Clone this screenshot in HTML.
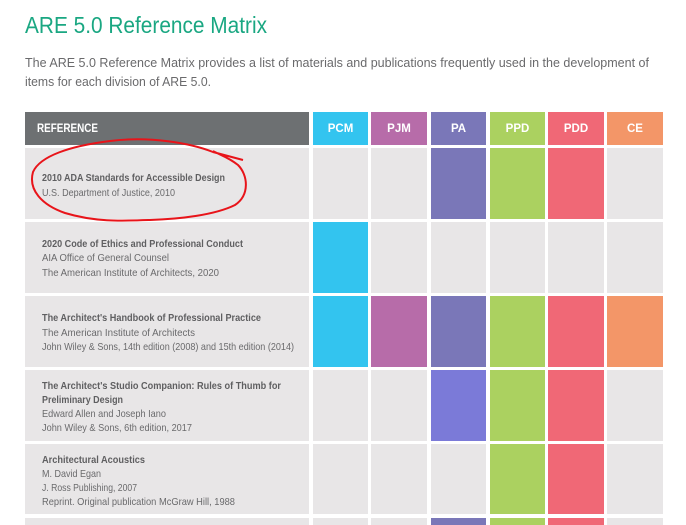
<!DOCTYPE html>
<html><head><style>
html,body{margin:0;padding:0;background:#fff;}
svg{display:block;}
text{font-family:"Liberation Sans",sans-serif;}
.b{font-weight:bold;font-size:10.5px;fill:#5f5f61;}
.l{font-size:10.5px;fill:#6a6a6c;}
.h{font-weight:bold;font-size:11.5px;fill:#fff;}
</style></head><body>
<svg width="686" height="525" viewBox="0 0 686 525">
<rect width="686" height="525" fill="#fff"/>
<text x="25" y="33" font-size="23" fill="#1aa782" textLength="242" lengthAdjust="spacingAndGlyphs">ARE 5.0 Reference Matrix</text>
<text x="25" y="67" font-size="13" fill="#6a6a6c" textLength="624" lengthAdjust="spacingAndGlyphs">The ARE 5.0 Reference Matrix provides a list of materials and publications frequently used in the development of</text>
<text x="25" y="86" font-size="13" fill="#6a6a6c" textLength="186" lengthAdjust="spacingAndGlyphs">items for each division of ARE 5.0.</text>

<!-- columns: ref 25-309, PCM 313-368, PJM 371-427, PA 431-486, PPD 490-545, PDD 548-604, CE 607-663 -->
<rect x="25" y="112" width="284" height="33" fill="#6d7072"/>
<rect x="313" y="112" width="55" height="33" fill="#33c4ef"/>
<rect x="371" y="112" width="56" height="33" fill="#b76ca9"/>
<rect x="431" y="112" width="55" height="33" fill="#7a77b8"/>
<rect x="490" y="112" width="55" height="33" fill="#abd160"/>
<rect x="548" y="112" width="56" height="33" fill="#f06876"/>
<rect x="607" y="112" width="56" height="33" fill="#f39668"/>
<text class="h" x="37" y="132" textLength="61" lengthAdjust="spacingAndGlyphs">REFERENCE</text>
<text class="h" x="340.5" y="132" text-anchor="middle">PCM</text>
<text class="h" x="399" y="132" text-anchor="middle">PJM</text>
<text class="h" x="458.5" y="132" text-anchor="middle">PA</text>
<text class="h" x="517.5" y="132" text-anchor="middle">PPD</text>
<text class="h" x="576" y="132" text-anchor="middle">PDD</text>
<text class="h" x="635" y="132" text-anchor="middle">CE</text>

<g fill="#e8e6e7">
<rect x="25" y="148" width="284" height="71"/><rect x="313" y="148" width="55" height="71"/><rect x="371" y="148" width="56" height="71"/><rect x="607" y="148" width="56" height="71"/>
<rect x="25" y="222" width="284" height="71"/><rect x="371" y="222" width="56" height="71"/><rect x="431" y="222" width="55" height="71"/><rect x="490" y="222" width="55" height="71"/><rect x="548" y="222" width="56" height="71"/><rect x="607" y="222" width="56" height="71"/>
<rect x="25" y="296" width="284" height="71"/>
<rect x="25" y="370" width="284" height="71"/><rect x="313" y="370" width="55" height="71"/><rect x="371" y="370" width="56" height="71"/><rect x="607" y="370" width="56" height="71"/>
<rect x="25" y="444" width="284" height="70"/><rect x="313" y="444" width="55" height="70"/><rect x="371" y="444" width="56" height="70"/><rect x="431" y="444" width="55" height="70"/><rect x="607" y="444" width="56" height="70"/>
<rect x="25" y="518" width="284" height="7"/><rect x="313" y="518" width="55" height="7"/><rect x="371" y="518" width="56" height="7"/><rect x="607" y="518" width="56" height="7"/>
</g>
<rect x="431" y="148" width="55" height="71" fill="#7a77b8"/><rect x="490" y="148" width="55" height="71" fill="#abd160"/><rect x="548" y="148" width="56" height="71" fill="#f06876"/>
<rect x="313" y="222" width="55" height="71" fill="#33c4ef"/>
<rect x="313" y="296" width="55" height="71" fill="#33c4ef"/><rect x="371" y="296" width="56" height="71" fill="#b76ca9"/><rect x="431" y="296" width="55" height="71" fill="#7a77b8"/><rect x="490" y="296" width="55" height="71" fill="#abd160"/><rect x="548" y="296" width="56" height="71" fill="#f06876"/><rect x="607" y="296" width="56" height="71" fill="#f39668"/>
<rect x="431" y="370" width="55" height="71" fill="#7b7ad8"/><rect x="490" y="370" width="55" height="71" fill="#abd160"/><rect x="548" y="370" width="56" height="71" fill="#f06876"/>
<rect x="490" y="444" width="55" height="70" fill="#abd160"/><rect x="548" y="444" width="56" height="70" fill="#f06876"/>
<rect x="431" y="518" width="55" height="7" fill="#7a77b8"/><rect x="490" y="518" width="55" height="7" fill="#abd160"/><rect x="548" y="518" width="56" height="7" fill="#f06876"/>

<text class="b" x="42" y="181" textLength="183" lengthAdjust="spacingAndGlyphs">2010 ADA Standards for Accessible Design</text>
<text class="l" x="42" y="196" textLength="133" lengthAdjust="spacingAndGlyphs">U.S. Department of Justice, 2010</text>

<text class="b" x="42" y="247" textLength="201" lengthAdjust="spacingAndGlyphs">2020 Code of Ethics and Professional Conduct</text>
<text class="l" x="42" y="261" textLength="127" lengthAdjust="spacingAndGlyphs">AIA Office of General Counsel</text>
<text class="l" x="42" y="276" textLength="177" lengthAdjust="spacingAndGlyphs">The American Institute of Architects, 2020</text>

<text class="b" x="42" y="321" textLength="219" lengthAdjust="spacingAndGlyphs">The Architect's Handbook of Professional Practice</text>
<text class="l" x="42" y="336" textLength="153" lengthAdjust="spacingAndGlyphs">The American Institute of Architects</text>
<text class="l" x="42" y="350" textLength="252" lengthAdjust="spacingAndGlyphs">John Wiley &amp; Sons, 14th edition (2008) and 15th edition (2014)</text>

<text class="b" x="42" y="389" textLength="239" lengthAdjust="spacingAndGlyphs">The Architect's Studio Companion: Rules of Thumb for</text>
<text class="b" x="42" y="403" textLength="81" lengthAdjust="spacingAndGlyphs">Preliminary Design</text>
<text class="l" x="42" y="417" textLength="124" lengthAdjust="spacingAndGlyphs">Edward Allen and Joseph Iano</text>
<text class="l" x="42" y="431" textLength="150" lengthAdjust="spacingAndGlyphs">John Wiley &amp; Sons, 6th edition, 2017</text>

<text class="b" x="42" y="463" textLength="103" lengthAdjust="spacingAndGlyphs">Architectural Acoustics</text>
<text class="l" x="42" y="477" textLength="59" lengthAdjust="spacingAndGlyphs">M. David Egan</text>
<text class="l" x="42" y="491" textLength="95" lengthAdjust="spacingAndGlyphs">J. Ross Publishing, 2007</text>
<text class="l" x="42" y="505" textLength="193" lengthAdjust="spacingAndGlyphs">Reprint. Original publication McGraw Hill, 1988</text>

<path d="M243,160 L213,152 C190,143 150,136 110,141 C70,146 40,156 33,172 C28,190 42,205 65,213 C95,222 120,221 150,220 C180,219 215,215 235,205 C250,195 248,175 238,165 C228,157 220,155 213,151" fill="none" stroke="#e8141a" stroke-width="2"/>
</svg>
</body></html>
